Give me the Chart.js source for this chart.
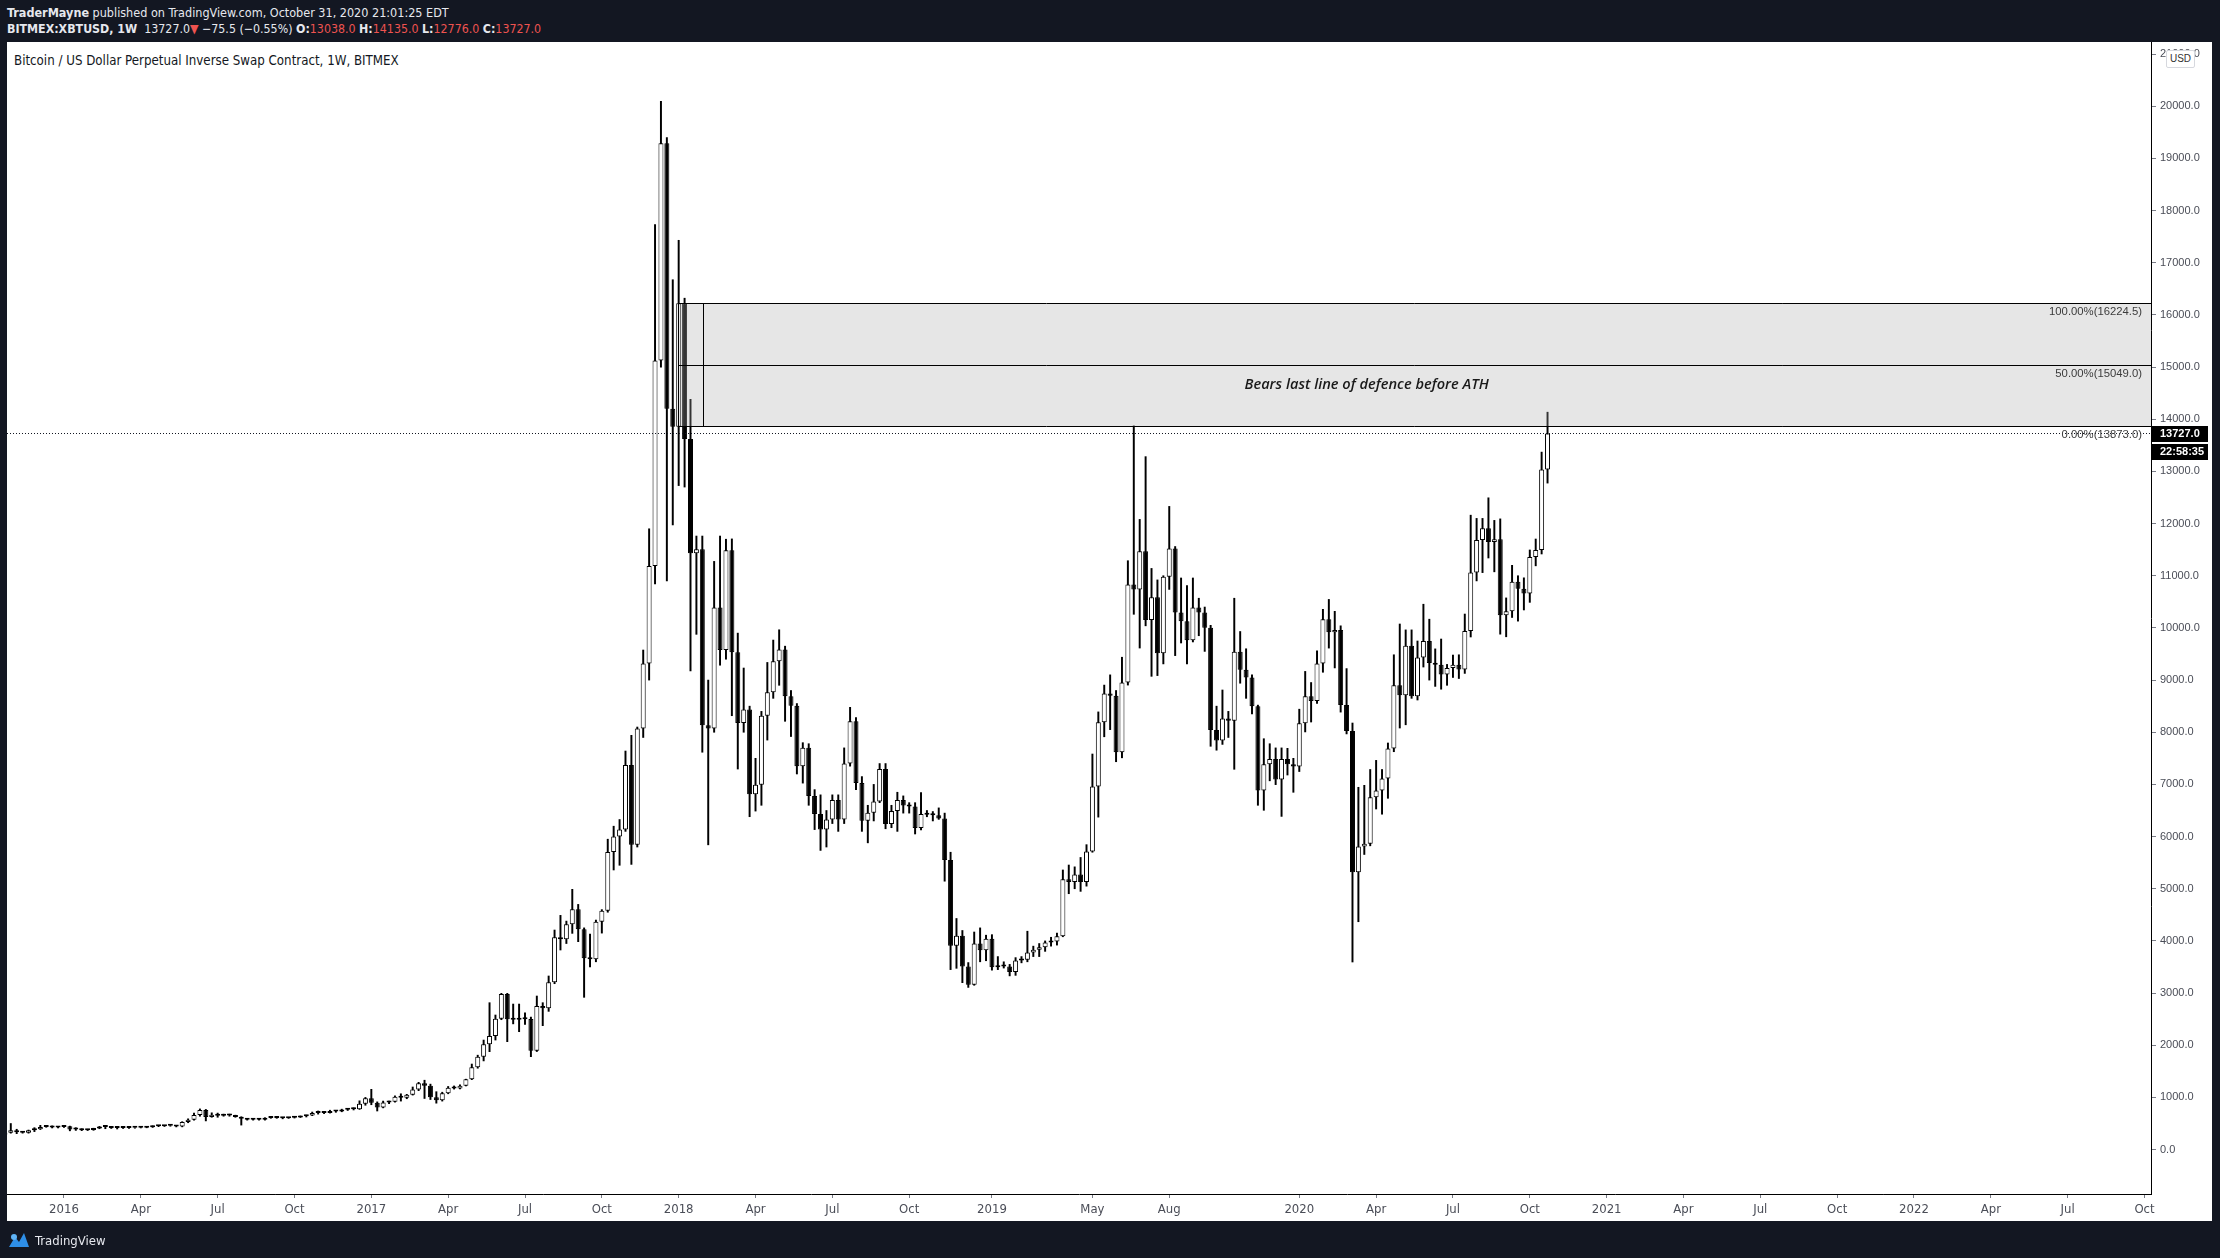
<!DOCTYPE html>
<html>
<head>
<meta charset="utf-8">
<script src="https://cdn.jsdelivr.net/npm/chart.js@4.4.0/dist/chart.umd.min.js"></script>
<style>
html,body{margin:0;padding:0;width:2220px;height:1258px;overflow:hidden;background:#131722;position:relative;}
.narrow{font-family:"Liberation Sans Narrow","DejaVu Sans Condensed","Roboto Condensed","Liberation Sans",Arial,sans-serif;}
#panel{position:absolute;left:7px;top:42px;width:2205px;height:1179px;background:#ffffff;}
#cv{position:absolute;left:0;top:0;}
#hdr1{position:absolute;left:7px;top:5px;color:#e6e8ee;font-size:12.5px;white-space:nowrap;}
#hdr2{position:absolute;left:7px;top:22px;color:#e6e8ee;font-size:12.3px;white-space:nowrap;}
.red{color:#ef5350;}
#title{position:absolute;left:14px;top:53px;color:#131722;font-size:13.2px;white-space:nowrap;}
#usd{position:absolute;left:2166px;top:50px;width:27px;height:16px;border:1px solid #d6d8de;border-radius:2px;background:#fff;color:#333;font:10px "Liberation Sans",Arial,sans-serif;text-align:center;line-height:16px;}
#foot{position:absolute;left:8px;top:1232px;color:#e6e8ee;font-size:13px;white-space:nowrap;display:flex;align-items:center;}
#foot svg{margin-right:5px;}
</style>
</head>
<body>
<div id="panel"></div>
<div id="hdr1" class="narrow"><b>TraderMayne</b> published on TradingView.com, October 31, 2020 21:01:25 EDT</div>
<div id="hdr2" class="narrow"></div>
<div id="title" class="narrow">Bitcoin / US Dollar Perpetual Inverse Swap Contract, 1W, BITMEX</div>
<canvas id="cv" width="2220" height="1258"></canvas>
<div id="usd">USD</div>
<div id="foot" class="narrow"><svg width="22" height="16" viewBox="0 0 22 16"><path d="M1 15 L7 5 L11 10 L16 1 L21 15 Z" fill="#2e8fe8"/><circle cx="6" cy="5" r="3" fill="#5fb3f5"/></svg>TradingView</div>
<script>
// ---- DATA (weekly candles, BITMEX:XBTUSD) ----
const firstWeek = '2015-10-26';
const opens = [
285,325,372,333,323,370,390,435,445,422,
432,448,383,390,370,375,405,437,433,412,
413,412,417,420,421,428,450,448,460,455,
442,528,570,663,759,625,670,650,665,655,
625,590,570,582,572,607,608,607,602,612,
617,640,655,700,705,702,735,732,765,772,
775,880,982,900,805,905,915,1012,995,1050,
1150,1270,1225,1005,945,1078,1187,1170,1226,1347,
1577,1781,2018,2177,2510,2982,2497,2490,2500,2505,
1896,2752,2710,3206,4069,4030,4318,4605,4222,3666,
3650,4369,4580,5704,6004,6134,7371,5842,8070,9318,
11189,15128,19288,14201,13856,16224.5,13621,11431,11508,8135,
8070,10393,9576,11489,9532,8177,8436,6810,6994,8317,
8769,9360,9586,8692,8508,7350,7704,6777,6435,6134,
6327,6703,6327,7403,8210,7027,6306,6456,6671,7295,
6241,6489,6703,6596,6575,6166,6435,6420,6410,6349,
5553,3906,4098,3512,3159,3952,3820,4041,3497,3530,
3510,3402,3623,3640,3780,3830,3880,3968,3990,4090,
5183,5130,5271,5130,5712,6960,8192,8742,8700,7619,
8955,10832,10738,11470,10150,10590,9513,10980,11522,10297,
10128,9762,10393,10297,10004,8045,7840,8265,8221,9542,
9197,9049,8499,6885,7385,7487,7092,7487,7385,7342,
8173,8689,8597,9318,10167,9916,9962,8522,8022,5315,
5808,5862,6755,6885,7112,7688,8900,8710,9659,8690,
9431,9749,9327,9295,9105,9230,9295,9204,9939,11060,
11683,11909,11645,11698,10241,10318,10886,10750,10660,11357,
11494,13038];
const highs = [
335,500,390,340,375,420,465,465,455,440,
460,450,420,400,390,410,445,442,440,420,
420,420,420,425,430,455,465,465,462,457,
535,590,700,780,770,705,700,680,680,660,
630,595,590,590,612,630,612,610,615,620,
645,660,720,740,715,755,750,775,775,800,
935,1000,1155,915,930,930,1030,1070,1060,1200,
1290,1330,1255,1110,1100,1210,1220,1240,1350,1640,
1810,2100,2816,2580,2995,2995,2790,2790,2620,2540,
2944,2816,3328,4209,4490,4380,4989,4700,4250,4130,
4400,4600,5950,6199,6327,7640,7941,8100,9576,11900,
17731,20096,19400,16674,17430,16320,14383,11761,11761,9000,
11275,11761,11700,11706,9900,9231,8500,7500,8400,9338,
9767,9964,9650,8800,8550,7800,7780,6900,6800,6500,
6800,6800,7700,8478,8280,7150,6600,7000,7400,7400,
6600,6850,6780,6650,6650,6843,6500,6480,6550,6450,
5700,4430,4200,3585,4171,4250,4110,4120,3700,3600,
3550,3680,3700,4186,3900,3950,4000,4070,4150,5360,
5455,5420,5600,5845,7583,8390,8904,9100,8800,9438,
11288,13873,12080,13283,11140,10920,11000,12329,11560,10957,
10811,10957,10569,10400,10050,8500,8810,8400,10569,9931,
9600,9100,8520,7876,7780,7700,7700,7692,7500,8442,
9166,8953,9559,10356,10546,10318,10040,9220,8177,6945,
6983,7286,7461,7286,7794,9485,10075,9962,9962,9749,
10454,10167,9598,9787,9300,9480,9485,10266,12161,12099,
12099,12494,12061,12090,10575,11200,11000,10960,11494,11704,
13370,14135];
const lows = [
282,315,305,315,315,345,385,428,415,415,
425,360,368,363,365,370,400,400,405,395,
405,408,410,415,418,425,440,443,448,435,
436,515,565,640,550,620,620,640,640,620,
470,565,565,565,565,600,600,590,598,605,
615,625,650,680,690,700,715,725,750,760,
770,850,860,740,800,880,910,930,975,1045,
1130,980,960,890,930,1070,1160,1165,1220,1340,
1560,1700,1877,2100,2490,2069,2410,2260,2400,1781,
1880,2376,2650,3180,3826,3950,4145,3986,2919,3500,
3600,4150,4550,5360,5450,6100,5467,5800,7900,9000,
10845,15000,10899,11974,12728,12700,9178,9877,7617,5842,
8000,9285,9400,8317,7295,8000,6381,6489,6600,7850,
8650,8900,8210,7918,7200,7025,6600,6134,5735,5800,
6250,6100,6250,7350,6900,6100,5880,6300,6650,6150,
6170,6100,6450,6450,6050,6130,6380,6300,6330,5145,
3450,3475,3200,3109,3150,3600,3620,3440,3450,3480,
3330,3340,3580,3600,3700,3700,3800,3900,3920,4080,
4905,5000,4950,5050,5700,6373,7913,8050,7435,7510,
8904,10261,9614,10040,9072,9086,9310,10738,9469,9711,
9308,9731,9850,9550,7731,7656,7767,7900,7290,8940,
8650,8353,6600,6504,7069,6996,6387,7180,6849,7247,
8006,8196,8553,9150,9613,9233,8386,7968,3596,4368,
5657,5823,6529,6429,6734,7627,8081,8143,8650,8618,
9250,9000,8879,8825,8900,9050,9030,9128,9826,10901,
11060,11340,11075,9880,9830,10200,10130,10344,10490,11190,
11417,12776];
const closes = [
325,372,333,323,370,390,435,445,422,432,
448,383,390,370,375,405,437,433,412,413,
412,417,420,421,428,450,448,460,455,442,
528,570,663,759,625,670,650,665,655,625,
590,570,582,572,607,608,607,602,612,617,
640,655,700,705,702,735,732,765,772,775,
880,982,900,805,905,915,1012,995,1050,1150,
1270,1225,1005,945,1078,1187,1170,1226,1347,1577,
1781,2018,2177,2510,2982,2497,2490,2500,2505,1896,
2752,2710,3206,4069,4030,4318,4605,4222,3666,3650,
4369,4580,5704,6004,6134,7371,5842,8070,9318,11189,
15128,19288,14201,13856,16224.5,13621,11431,11508,8135,8070,
10393,9576,11489,9532,8177,8436,6810,6994,8317,8769,
9360,9586,8692,8508,7350,7704,6777,6435,6134,6327,
6703,6327,7403,8210,7027,6306,6456,6671,7295,6241,
6489,6703,6596,6575,6166,6435,6420,6410,6349,5553,
3906,4098,3512,3159,3952,3820,4041,3497,3530,3510,
3402,3623,3640,3780,3830,3880,3968,3990,4090,5183,
5130,5271,5130,5712,6960,8192,8742,8700,7619,8955,
10832,10738,11470,10150,10590,9513,10980,11522,10297,10128,
9762,10393,10297,10004,8045,7840,8265,8221,9542,9197,
9049,8499,6885,7385,7487,7092,7487,7385,7342,8173,
8689,8597,9318,10167,9916,9962,8522,8022,5315,5808,
5862,6755,6885,7112,7688,8900,8710,9659,8690,9431,
9749,9327,9295,9105,9230,9295,9204,9939,11060,11683,
11909,11645,11698,10241,10318,10886,10750,10660,11357,11494,
13038,13727];

// time-axis tick labels (first weekly bar of each labelled month)
const tickMonths = ['2016-01','2016-04','2016-07','2016-10','2017-01','2017-04','2017-07','2017-10','2018-01','2018-04','2018-07','2018-10','2019-01','2019-05','2019-08','2020-01','2020-04','2020-07','2020-10','2021-01','2021-04','2021-07','2021-10','2022-01','2022-04','2022-07','2022-10'];
const tickLabels = ['2016','Apr','Jul','Oct','2017','Apr','Jul','Oct','2018','Apr','Jul','Oct','2019','May','Aug','2020','Apr','Jul','Oct','2021','Apr','Jul','Oct','2022','Apr','Jul','Oct'];
const priceTicks = [0,1000,2000,3000,4000,5000,6000,7000,8000,9000,10000,11000,12000,13000,14000,15000,16000,17000,18000,19000,20000,21000];

// Fibonacci retracement drawing
const fibPercents = ['100.00%','50.00%','0.00%'];
const fibValues = [16224.5, 15049.0, 13873.0];
const fibStartWeek = 113.87;
const fibMarkWeek = 118.1;
const noteText = 'Bears last line of defence before ATH';
const noteWeek = 230.4;
const noteValue = 14656;
const countdownText = '22:58:35';
const changeText = '\u221275.5 (\u22120.55%)';

// ---- build ----
const DAY = 864e5;
const start = Date.parse(firstWeek + 'T00:00:00Z');
function weekIndex(ym){
  const [yy, mm] = ym.split('-').map(Number);
  let t = Date.UTC(yy, mm - 1, 1);
  while (new Date(t).getUTCDay() !== 1) t += DAY;
  return Math.round((t - start) / (7 * DAY));
}
const tickIdx = tickMonths.map(weekIndex);
const n = closes.length;
const wickData = [], bodyData = [], bodyColors = [];
for (let i = 0; i < n; i++) {
  wickData.push({x: i, y: [lows[i], highs[i]]});
  bodyData.push({x: i, y: [Math.min(opens[i], closes[i]), Math.max(opens[i], closes[i])]});
  bodyColors.push(closes[i] >= opens[i] ? '#ffffff' : '#000000');
}
const last = n - 1;
const f1 = v => v.toFixed(1);
document.getElementById('hdr2').innerHTML =
  '<b>BITMEX:XBTUSD, 1W</b>&nbsp; ' + f1(closes[last]) + '<span class="red">\u25BC</span> ' + changeText +
  ' <b>O:</b><span class="red">' + f1(opens[last]) + '</span> <b>H:</b><span class="red">' + f1(highs[last]) +
  '</span> <b>L:</b><span class="red">' + f1(lows[last]) + '</span> <b>C:</b><span class="red">' + f1(closes[last]) + '</span>';

const NARROW = '"Liberation Sans Narrow","DejaVu Sans Condensed","Roboto Condensed","Liberation Sans",Arial,sans-serif';
const SANS = '"Liberation Sans",Arial,sans-serif';

const overlay = {
  id: 'overlay',
  afterDatasetsDraw(chart) {
    const {ctx, chartArea: a, scales: {x, y}} = chart;
    ctx.save();
    ctx.beginPath();
    ctx.rect(a.left, a.top, a.right - a.left, a.bottom - a.top);
    ctx.clip();
    const x1 = Math.round(x.getPixelForValue(fibStartWeek)) + 0.5;
    const ys = fibValues.map(v => Math.round(y.getPixelForValue(v)) + 0.5);
    // box fill
    ctx.fillStyle = 'rgba(171,171,171,0.3)';
    ctx.fillRect(x1, ys[0], a.right - x1, ys[2] - ys[0]);
    ctx.strokeStyle = '#000';
    ctx.lineWidth = 1;
    ctx.beginPath();
    ys.forEach(yy => { ctx.moveTo(x1, yy); ctx.lineTo(a.right, yy); });
    ctx.moveTo(x1, ys[0]); ctx.lineTo(x1, ys[2]);
    const xm = Math.round(x.getPixelForValue(fibMarkWeek)) + 0.5;
    ctx.moveTo(xm, ys[0]); ctx.lineTo(xm, ys[2]);
    ctx.stroke();
    // current price dotted line
    const yc = Math.round(y.getPixelForValue(closes[last])) + 0.5;
    ctx.setLineDash([1, 2]);
    ctx.strokeStyle = '#131722';
    ctx.beginPath(); ctx.moveTo(a.left, yc); ctx.lineTo(a.right, yc); ctx.stroke();
    ctx.setLineDash([]);
    // fib labels
    ctx.font = '11.3px ' + SANS;
    ctx.fillStyle = '#3c3c3c';
    ctx.textAlign = 'right';
    ctx.textBaseline = 'middle';
    fibValues.forEach((v, i) => {
      ctx.fillText(fibPercents[i] + '(' + v.toFixed(1) + ')', a.right - 9, ys[i] + 8);
    });
    // note text
    ctx.font = 'italic 600 14.6px "Open Sans","DejaVu Sans",sans-serif';
    ctx.fillStyle = '#1a1a1a';
    ctx.textAlign = 'center';
    ctx.fillText(noteText, x.getPixelForValue(noteWeek), y.getPixelForValue(noteValue));
    ctx.restore();
  },
  afterDraw(chart) {
    const {ctx, chartArea: a, scales: {y}} = chart;
    const yc = Math.round(y.getPixelForValue(closes[last]));
    ctx.save();
    ctx.fillStyle = '#000';
    ctx.fillRect(a.right + 1, yc - 7, 56, 16);
    ctx.fillRect(a.right + 1, yc + 11, 56, 16);
    ctx.fillStyle = '#fff';
    ctx.font = 'bold 11px ' + SANS;
    ctx.textAlign = 'left';
    ctx.textBaseline = 'middle';
    ctx.fillText(f1(closes[last]), a.right + 9, yc + 1);
    ctx.fillText(countdownText, a.right + 9, yc + 19);
    ctx.restore();
  }
};

new Chart(document.getElementById('cv'), {
  type: 'bar',
  data: {
    datasets: [
      {label: 'wick', data: wickData, backgroundColor: '#000', borderWidth: 0, barThickness: 1.3, grouped: false, order: 2},
      {label: 'body', data: bodyData, backgroundColor: bodyColors, borderColor: '#000', borderWidth: 1, borderSkipped: false, barThickness: 5, minBarLength: 2, grouped: false, order: 1, inflateAmount: 0}
    ]
  },
  options: {
    responsive: false,
    animation: false,
    devicePixelRatio: 1,
    layout: {padding: {left: 7, top: 42, right: 8, bottom: 37}},
    plugins: {legend: {display: false}, tooltip: {enabled: false}},
    scales: {
      x: {
        type: 'linear', min: 0.36, max: 363.1, offset: false,
        grid: {display: true, drawOnChartArea: false, drawTicks: true, tickLength: 4, tickColor: '#787b86', offset: false},
        border: {display: true, color: '#000', width: 1},
        ticks: {autoSkip: false, maxRotation: 0, padding: 4, color: '#4a4d57', font: {family: NARROW, size: 13},
          callback: (v, i) => tickLabels[i]},
        afterBuildTicks: s => { s.ticks = tickIdx.map(v => ({value: v})); },
        afterFit: s => { s.height = 27; }
      },
      y: {
        type: 'linear', position: 'right', min: -851, max: 21231,
        grid: {display: true, drawOnChartArea: false, drawTicks: true, tickLength: 5, tickColor: '#787b86'},
        border: {display: true, color: '#000', width: 1},
        ticks: {autoSkip: false, padding: 4, color: '#4a4d57', font: {family: SANS, size: 11},
          callback: v => v.toFixed(1)},
        afterBuildTicks: s => { s.ticks = priceTicks.map(v => ({value: v})); },
        afterFit: s => { s.width = 61; }
      }
    }
  },
  plugins: [overlay]
});
</script>
</body>
</html>
